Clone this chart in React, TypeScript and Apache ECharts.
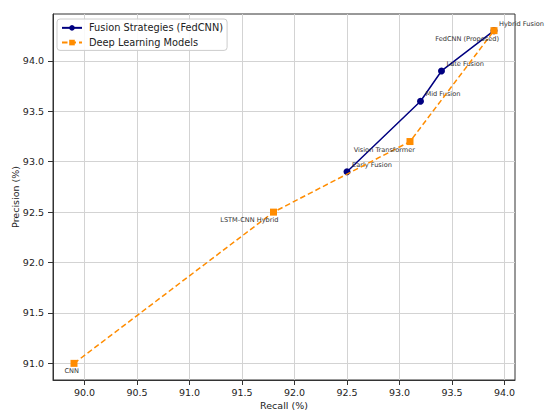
import React, { useEffect, useRef } from "react";
import * as echarts from "echarts";

const fusionNames = ["Early Fusion", "Mid Fusion", "Late Fusion", "Hybrid Fusion"];
const fusionRecall = [92.5, 93.2, 93.4, 93.9];
const fusionPrecision = [92.9, 93.6, 93.9, 94.3];

const dlNames = ["CNN", "LSTM-CNN Hybrid", "Vision Transformer", "FedCNN (Proposed)"];
const dlRecall = [89.9, 91.8, 93.1, 93.9];
const dlPrecision = [91.0, 92.5, 93.2, 94.3];

const xTicks = [90.0, 90.5, 91.0, 91.5, 92.0, 92.5, 93.0, 93.5, 94.0];
const yTicks = [91.0, 91.5, 92.0, 92.5, 93.0, 93.5, 94.0];

const FONT = "DejaVu Sans";

export default function App() {
  const ref = useRef<HTMLDivElement>(null);
  useEffect(() => {
    document.body.style.margin = "0";
    const chart = echarts.init(ref.current!, null, { renderer: "svg" });
    const axisCommon = {
      type: "value",
      axisLine: { show: true, onZero: false, lineStyle: { color: "#333", width: 1 } },
      axisTick: { show: true, length: 5, lineStyle: { color: "#333" } },
      axisLabel: { fontFamily: FONT, fontSize: 9.5, color: "#222" },
      splitLine: { show: true, lineStyle: { color: "#d3d3d3", width: 1 } },
      nameLocation: "middle",
      nameMoveOverlap: false,
      nameTextStyle: { fontFamily: FONT, fontSize: 9.5, color: "#222" },
    };
    chart.setOption({
      animation: false,
      backgroundColor: "#fff",
      grid: {
        left: 53,
        right: 35,
        top: 14,
        bottom: 38,
        outerBoundsMode: "none",
        containLabel: false,
        show: true,
        borderColor: "#333",
        borderWidth: 1,
        backgroundColor: "transparent",
      },
      legend: {
        orient: "vertical",
        left: 57,
        top: 19,
        padding: [3, 4, 2, 4],
        itemGap: 3,
        itemWidth: 20,
        itemHeight: 7,
        borderColor: "#cccccc",
        borderWidth: 1,
        borderRadius: 3,
        backgroundColor: "rgba(255,255,255,0.85)",
        textStyle: {
          fontFamily: FONT,
          fontSize: 9.8,
          color: "#222",
          lineHeight: 11.7,
          padding: [0, 0, 0, 2],
        },
        data: ["Fusion Strategies (FedCNN)", "Deep Learning Models"],
      },
      xAxis: {
        ...axisCommon,
        min: 89.7,
        max: 94.1,
        name: "Recall (%)",
        nameGap: 20,
        axisTick: { ...axisCommon.axisTick, customValues: xTicks },
        axisLabel: {
          ...axisCommon.axisLabel,
          margin: 7,
          customValues: xTicks,
          formatter: (v: number) => v.toFixed(1),
        },
      },
      yAxis: {
        ...axisCommon,
        min: 90.835,
        max: 94.465,
        name: "Precision (%)",
        nameGap: 33,
        axisTick: { ...axisCommon.axisTick, customValues: yTicks },
        axisLabel: {
          ...axisCommon.axisLabel,
          margin: 9,
          customValues: yTicks,
          formatter: (v: number) => v.toFixed(1),
        },
      },
      series: [
        {
          name: "Fusion Strategies (FedCNN)",
          type: "line",
          data: fusionRecall.map((x, i) => [x, fusionPrecision[i]]),
          symbol: "circle",
          symbolSize: 7,
          itemStyle: { color: "#000080" },
          lineStyle: { color: "#000080", width: 1.5 },
          label: {
            show: true,
            position: "inside",
            align: "left",
            verticalAlign: "middle",
            offset: [5, -7],
            fontFamily: FONT,
            fontSize: 6.6,
            color: "#333",
            formatter: (p: any) => fusionNames[p.dataIndex],
          },
          z: 3,
        },
        {
          name: "Deep Learning Models",
          type: "line",
          data: dlRecall.map((x, i) => [x, dlPrecision[i]]),
          symbol: "rect",
          symbolSize: 7,
          itemStyle: { color: "#ff8c00" },
          lineStyle: { color: "#ff8c00", width: 1.5, type: [5.5, 3] },
          label: {
            show: true,
            position: "inside",
            align: "right",
            verticalAlign: "middle",
            offset: [5, 8],
            fontFamily: FONT,
            fontSize: 6.6,
            color: "#333",
            formatter: (p: any) => dlNames[p.dataIndex],
          },
          z: 4,
        },
      ],
    });
    return () => chart.dispose();
  }, []);
  return <div ref={ref} style={{ width: 550, height: 418 }} />;
}
